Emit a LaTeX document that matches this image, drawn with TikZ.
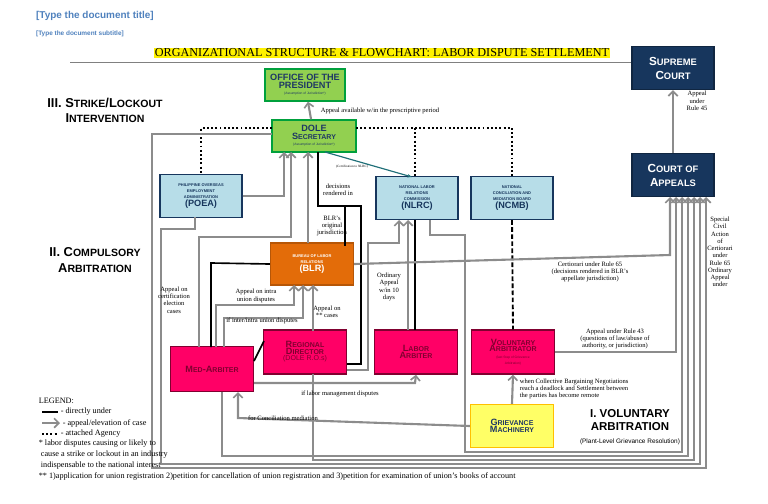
\documentclass[tikz,border=0pt]{standalone}
\usepackage{fontspec}
\setmainfont{Liberation Serif}
\newfontfamily\hd{Liberation Sans}
\usetikzlibrary{arrows.meta}
\definecolor{grn}{HTML}{92D050}\definecolor{grnb}{HTML}{00A03C}
\definecolor{dblue}{HTML}{1F3864}\definecolor{lblue}{HTML}{B7DDE8}
\definecolor{navy}{HTML}{17365D}\definecolor{org}{HTML}{E36C09}
\definecolor{mag}{HTML}{FF0066}\definecolor{magb}{HTML}{800030}
\definecolor{yel}{HTML}{FFFF66}\definecolor{yelb}{HTML}{FFC000}
\definecolor{gr}{HTML}{8C8C8C}\definecolor{teal}{HTML}{1F6F78}
\definecolor{tblue}{HTML}{4F81BD}
\newcommand\mysm[1]{{\fontsize{3.4}{3.8}\selectfont #1}}
\newcommand\mytn[1]{{\fontsize{2.8}{3.2}\selectfont\mdseries #1}}
\newcommand\myb[1]{{\fontsize{7.8}{8.5}\selectfont #1}}
\newcommand\myc[2]{{\fontsize{7.8}{8.5}\selectfont #1{\fontsize{6}{7}\selectfont #2}}}
\begin{document}
\begin{tikzpicture}[x=0.03cm,y=-0.03cm,
 box/.style={draw,line width=1.2pt,align=center,inner sep=1pt,font=\hd\bfseries\fontsize{5}{5.5}\selectfont},
 gbox/.style={box,fill=grn,draw=grnb,text=dblue,minimum width=2.4cm,minimum height=0.96cm},
 bbox/.style={box,fill=lblue,draw=navy,text=navy,minimum width=2.46cm,minimum height=1.29cm},
 mbox/.style={box,fill=mag,draw=magb,text=magb,minimum width=2.5cm,minimum height=1.32cm},
 nbox/.style={box,fill=navy,draw=navy!70!black,text=white,minimum width=2.46cm,minimum height=1.29cm,font=\hd\bfseries\fontsize{10}{12}\selectfont},
 g/.style={draw=gr,line width=1.8pt,-{Straight Barb[length=4pt,width=8pt,line width=1.4pt]}},
 bl/.style={draw=black,line width=1.4pt},
 dt/.style={draw=black,line width=1.6pt,dotted},
 lab/.style={font=\fontsize{5.6}{6.2}\selectfont,align=center,inner sep=0.5pt},
 leg/.style={font=\fontsize{7}{9.4}\selectfont,align=left,inner sep=0.5pt},
 sec/.style={font=\hd\bfseries\fontsize{11}{13}\selectfont,align=center}]
\useasboundingbox (0,0) rectangle (768,503);
% header
\node[anchor=west,text=tblue,font=\hd\bfseries\fontsize{8.5}{10}\selectfont] (t1) at (32,16) {[Type the document title]};
\node[anchor=west,text=tblue,font=\hd\bfseries\fontsize{5.5}{6}\selectfont] (t2) at (32,34) {[Type the document subtitle]};
\draw[gray,line width=0.4pt] (70,62) -- (632,62);
\node[fill=yellow,inner sep=1pt,font=\fontsize{10.4}{11}\selectfont] (tt) at (382,53) {ORGANIZATIONAL STRUCTURE \& FLOWCHART: LABOR DISPUTE SETTLEMENT};
\node[sec] (s3) at (105,110) {III. S{\fontsize{9}{10}\selectfont TRIKE}/L{\fontsize{9}{10}\selectfont OCKOUT}\\ I{\fontsize{9}{10}\selectfont NTERVENTION}};
\node[sec] (s2) at (95,260) {II. C{\fontsize{9}{10}\selectfont OMPULSORY}\\ A{\fontsize{9}{10}\selectfont RBITRATION}};
\node[sec,font=\hd\bfseries\fontsize{9.8}{11}\selectfont] (s1) at (630,427) {I. VOLUNTARY\\ ARBITRATION\\ {\mdseries\fontsize{5.5}{6}\selectfont (Plant-Level Grievance Resolution)}};
% nodes
\node[gbox] (op) at (305,85) {\myb{OFFICE OF THE}\\ \myb{PRESIDENT}\\ \mytn{(Assumption of Jurisdiction*)}};
\node[gbox,minimum width=2.52cm] (dole) at (314,136) {\myb{DOLE}\\ \myc{S}{ECRETARY}\\ \mytn{(Assumption of Jurisdiction*)}};
\node[bbox] (poea) at (201,196) {\mysm{PHILIPPINE OVERSEAS}\\ \mysm{EMPLOYMENT}\\ \mysm{ADMINISTRATION}\\ \myb{(POEA)}};
\node[bbox] (nlrc) at (417,198) {\mysm{NATIONAL LABOR}\\ \mysm{RELATIONS}\\ \mysm{COMMISSION}\\ \myb{(NLRC)}};
\node[bbox] (ncmb) at (512,198) {\mysm{NATIONAL}\\ \mysm{CONCILIATION AND}\\ \mysm{MEDIATION BOARD}\\ \myb{(NCMB)}};
\node[box,fill=org,draw=org!80!black,text=white,minimum width=2.49cm,minimum height=1.26cm] (blr) at (312,264) {\mysm{BUREAU OF LABOR}\\ \mysm{RELATIONS}\\ \myb{(BLR)}};
\node[mbox,minimum height=1.35cm] (med) at (212,369) {\myc{M}{ED}\myc{-A}{RBITER}};
\node[mbox] (rd) at (305,352) {\myc{R}{EGIONAL}\\ \myc{D}{IRECTOR}\\ {\fontsize{6}{7}\selectfont\mdseries (DOLE R.O.s)}};
\node[mbox] (la) at (416,352) {\myc{L}{ABOR}\\ \myc{A}{RBITER}};
\node[mbox] (va) at (513,352) {\myc{V}{OLUNTARY}\\ \myc{A}{RBITRATOR}\\ \mytn{(last Step of Grievance}\\ \mytn{Arbitration)}};
\node[box,fill=yel,draw=yelb,text=dblue,minimum width=2.49cm,minimum height=1.29cm] (gm) at (512,426) {\myc{G}{RIEVANCE}\\ \myc{M}{ACHINERY}};
\node[nbox] (sc) at (673,68) {S{\fontsize{8}{9}\selectfont UPREME}\\ C{\fontsize{8}{9}\selectfont OURT}};
\node[nbox] (ca) at (673,175) {C{\fontsize{8}{9}\selectfont OURT OF}\\ A{\fontsize{8}{9}\selectfont PPEALS}};
% dotted attached agency
\draw[dt] (272,128) -| (poea.north);
\draw[dt] (356,128) -| (ncmb.north);
\draw[dt] (415,128) -- (415,177);
\draw[draw=black,line width=1.6pt,dash pattern=on 4pt off 2pt] (ncmb.south) -- (va.north);
% black lines
\draw[bl] (318,152) -- (318,206) -- (361,206) -- (361,364) -- (347,364);
\draw[bl] (345,206) -- (345,246);
\draw[bl] (211,347) -- (211,263) -- (blr.west);
\draw[bl] (254,361) -- (264,341);
\draw[bl] (415,220) -- (415,330);
% teal arrow
\draw[teal,line width=1pt,-{Stealth[length=4pt]}] (325,152) -- (412,177);
\node[lab,font=\fontsize{2.8}{3}\selectfont] (lcert) at (352,167) {(Certification to NLRC)};
% gray arrows
\draw[g] (dole) -- (op);
\node[lab,anchor=west] (l1) at (320,111) {Appeal available w/in the prescriptive period};
\draw[g] (poea.east) -| (284,152);
\draw[g] (199,347) -- (199,237) -- (291,237) -- (291,152);
\draw[g] (308,243) -- (308,152);
\draw[g] (216,347) -- (216,305) -- (294,305) -- (294,285);
\draw[g] (224,347) -- (224,318) -- (303,318) -- (303,285);
\draw[g] (313,331) -- (313,285);
\draw[g] (347,370) -- (368,370) -- (368,243) -- (399,243) -- (399,220);
\draw[g] (408,330) -- (408,220);
\draw[g] (254,383) -- (415,383) -- (la.south);
\draw[g] (gm.west) -- (238,418) -- (238,392);
\draw[g] (gm.north) -- (va.south);
\draw[g] (ca) -- (sc);
% to Court of Appeals
\draw[g] (blr.east) -- (670,255) -- (670,197);
\draw[g] (va.east) -- (676,352) -- (676,197);
\draw[g] (430,220) -- (430,235) -- (465,235) -- (465,452) -- (682,452) -- (682,197);
\draw[g] (222,392) -- (222,456) -- (688,456) -- (688,197);
\draw[g] (313,374) -- (313,460) -- (694,460) -- (694,197);
\draw[g] (195,217) -- (195,229) -- (161,229) -- (161,464) -- (700,464) -- (700,197);
\draw[g] (272,134) -- (152,134) -- (152,468) -- (706,468) -- (706,197);
% labels
\node[lab] (l2) at (338,190) {decisions\\ rendered in};
\node[lab] (l3) at (332,226) {BLR's\\ original\\ jurisdiction};
\node[lab] (l4) at (174,300) {Appeal on\\ certification\\ election\\ cases};
\node[lab] (l5) at (256,296) {Appeal on intra\\ union disputes};
\node[lab] (l6) at (262,321) {if inter/intra union disputes};
\node[lab] (l7) at (327,312) {Appeal on\\ ** cases};
\node[lab] (l8) at (389,287) {Ordinary\\ Appeal\\ w/in 10\\ days};
\node[lab] (l9) at (590,272) {Certiorari under Rule 65\\ (decisions rendered in BLR's\\ appellate jurisdiction)};
\node[lab] (l10) at (615,339) {Appeal under Rule 43\\ (questions of law/abuse of\\ authority, or jurisdiction)};
\node[lab] (l11) at (697,101) {Appeal\\ under\\ Rule 45};
\node[lab] (l12) at (720,252) {Special\\ Civil\\ Action\\ of\\ Certiorari\\ under\\ Rule 65\\ Ordinary\\ Appeal\\ under};
\node[lab,anchor=west,align=left] (l13) at (519,389) {when Collective Bargaining Negotiations\\ reach a deadlock and Settlement between\\ the parties has become remote};
\node[lab] (l14) at (340,394) {if labor management disputes};
\node[lab] (l15) at (283,418) {for Conciliation mediation};
% legend
\node[anchor=west,leg] (lg) at (38,401) {LEGEND:};
\draw[black,line width=1.4pt] (42,412) -- (58,412);
\node[anchor=west,leg] (lg1) at (60,412) {- directly under};
\draw[g] (42,423) -- (60,423);
\node[anchor=west,leg] (lg2) at (62,423) {- appeal/elevation of case};
\draw[dt] (42,434) -- (58,434);
\node[anchor=west,leg] (lg3) at (60,434) {- attached Agency};
\node[anchor=north west,leg] (lg4) at (38,439) {* labor disputes causing or likely to\\ \ cause a strike or lockout in an industry\\ \ indispensable to the national interest\\ ** 1)application for union registration 2)petition for cancellation of union registration and 3)petition for examination of union's books of account};
\end{tikzpicture}
\end{document}
